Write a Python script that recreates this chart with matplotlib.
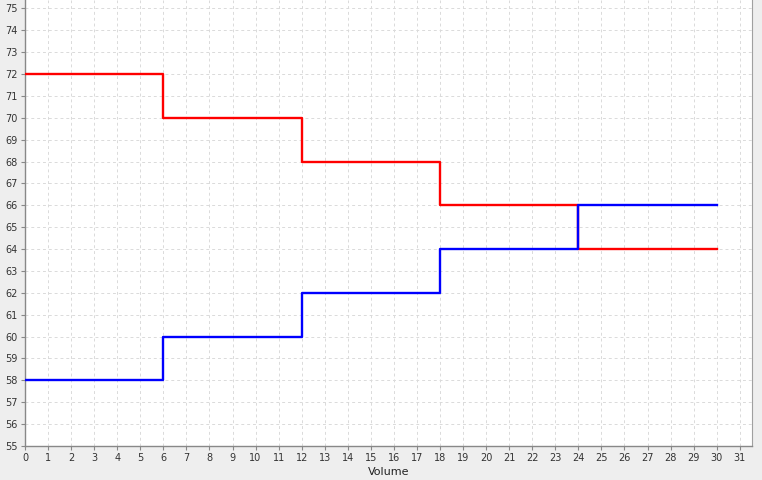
import matplotlib
matplotlib.use("Agg")
import matplotlib.pyplot as plt

volume = [0, 6, 12, 18, 24, 30]
sell_price = [72, 70, 68, 66, 64, 64]
buy_price = [58, 60, 62, 64, 66, 66]

bg = '#EEEEEE'
axis_c = '#888888'

fig = plt.figure(figsize=(7.62, 4.8), dpi=100, facecolor=bg)
ax = fig.add_axes([25/762, 34/480, 727/762, 446/480])
ax.set_facecolor('white')

ax.plot(volume, sell_price, drawstyle='steps-post', color='#FF0000', lw=1.7, zorder=3)
ax.plot(volume, buy_price, drawstyle='steps-post', color='#0000FF', lw=1.7, zorder=4)

ax.set_xlim(0, 31.53)
ax.set_ylim(55, 75.38)
ax.set_xticks(range(0, 32))
ax.set_yticks(range(55, 76))
ax.grid(True, color='#DADADA', ls=(0, (3, 3)), lw=0.7)
ax.set_axisbelow(True)

for side in ['left', 'bottom']:
    ax.spines[side].set_color(axis_c)
    ax.spines[side].set_linewidth(1.0)
ax.spines['right'].set_color('#A0A0A0')
ax.spines['top'].set_visible(False)

ax.tick_params(axis='both', direction='out', length=3, width=0.8, color=axis_c,
               labelsize=7, labelcolor='#333333', pad=2)

ax.set_xlabel('Volume', fontsize=8, color='#222222', labelpad=3)
# y label sits mostly off the left edge, as in the original window grab
ax.set_ylabel('Price', fontsize=8, color='#222222')
ax.yaxis.set_label_coords(-0.036, 0.5)

fig.savefig('out.png', dpi=100, facecolor=bg)
